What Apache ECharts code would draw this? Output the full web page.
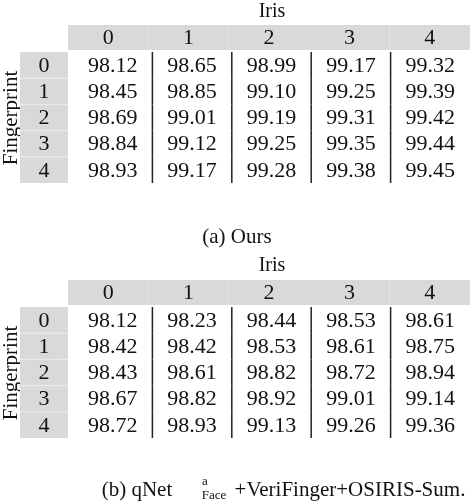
<!DOCTYPE html><html><head><meta charset="utf-8">
<script src="https://cdn.jsdelivr.net/npm/echarts@6/dist/echarts.min.js"></script>
<style>html,body{margin:0;background:#fff}#c{width:474px;height:503px}</style></head><body><div id="c"></div>
<script>
var irisLabels=['0','1','2','3','4'];
var fpLabels=['0','1','2','3','4'];
var oursValues=[
[98.12,98.65,98.99,99.17,99.32],
[98.45,98.85,99.10,99.25,99.39],
[98.69,99.01,99.19,99.31,99.42],
[98.84,99.12,99.25,99.35,99.44],
[98.93,99.17,99.28,99.38,99.45]];
var qnetValues=[
[98.12,98.23,98.44,98.53,98.61],
[98.42,98.42,98.53,98.61,98.75],
[98.43,98.61,98.82,98.72,98.94],
[98.67,98.82,98.92,99.01,99.14],
[98.72,98.93,99.13,99.26,99.36]];
var F='Liberation Serif';
var chart=echarts.init(document.getElementById('c'));
var grids=[],xAxes=[],yAxes=[],series=[];
function addGrid(g,xc,yc){
  grids.push(g);
  xAxes.push({type:'category',data:xc,gridIndex:grids.length-1,show:false});
  yAxes.push({type:'category',data:yc,inverse:true,gridIndex:grids.length-1,show:false});
  return grids.length-1;
}
function cellSeries(gi,data,texts,bg,sep,lines){
  series.push({type:'custom',xAxisIndex:gi,yAxisIndex:gi,data:data,
    renderItem:function(p,api){
      var x=api.value(0),y=api.value(1);
      var c=api.coord([x,y]),s=api.size([1,1]);
      var ch=[];
      if(bg) ch.push({type:'rect',shape:{x:c[0]-s[0]/2,y:c[1]-s[1]/2,width:s[0],height:s[1]},style:{fill:bg}});
      if(sep && y>0) ch.push({type:'line',shape:{x1:c[0]-s[0]/2,y1:c[1]-s[1]/2,x2:c[0]+s[0]/2,y2:c[1]-s[1]/2},style:{stroke:'#ececec',lineWidth:1}});
      ch.push({type:'text',style:{text:texts[p.dataIndex],x:c[0],y:c[1]+1,align:'center',verticalAlign:'middle',fontSize:22,fontFamily:F,fill:'#111'}});
      if(lines && x<4) ch.push({type:'line',shape:{x1:c[0]+s[0]/2,y1:c[1]-s[1]/2,x2:c[0]+s[0]/2,y2:c[1]+s[1]/2},style:{stroke:'#222',lineWidth:1.5}});
      return {type:'group',children:ch};
    }});
}
function table(top,values){
  var g1=addGrid({left:68,width:402,top:top,height:25},irisLabels,['h']);
  cellSeries(g1,irisLabels.map(function(l,i){return [i,0];}),irisLabels,'#d9d9d9',false,false);
  var g2=addGrid({left:20,width:48,top:top+27,height:131},['r'],fpLabels);
  cellSeries(g2,fpLabels.map(function(l,i){return [0,i];}),fpLabels,'#d9d9d9',true,false);
  var g3=addGrid({left:73,width:397,top:top+27,height:131},irisLabels,fpLabels);
  var d=[],t=[];values.forEach(function(r,i){r.forEach(function(v,j){d.push([j,i,v]);t.push(v.toFixed(2));});});
  cellSeries(g3,d,t,null,false,true);
}
table(25,oursValues);
table(280,qnetValues);
function T(x,y,text,size,rot){return {type:'text',x:x,y:y,rotation:rot||0,style:{text:text,fontSize:size,fontFamily:F,fill:'#111',align:'center',verticalAlign:'middle'}};}
chart.setOption({animation:false,grid:grids,xAxis:xAxes,yAxis:yAxes,series:series,
graphic:[
 T(272,12,'Iris',20),T(272,266,'Iris',20),
 T(11,118,'Fingerprint',21,Math.PI/2),T(11,373,'Fingerprint',21,Math.PI/2),
 T(237,237,'(a) Ours',21),
 T(137,490,'(b) qNet',21),
 T(205,482,'a',13),
 T(214,496,'Face',13),
 T(350,490,'+VeriFinger+OSIRIS-Sum.',21)
]});
</script></body></html>
